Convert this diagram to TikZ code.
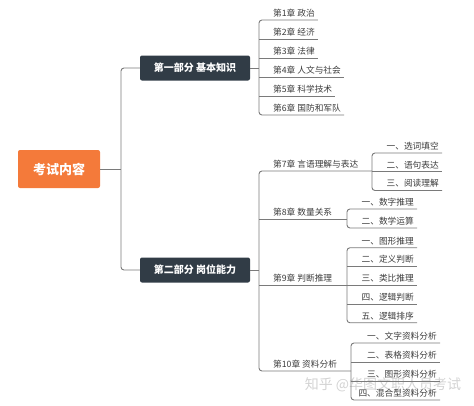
\documentclass[tikz,border=0pt]{standalone}
\usepackage{fontspec}
\newfontfamily\cjk{Noto Sans CJK SC}
\usetikzlibrary{positioning}
\definecolor{rootorange}{HTML}{F47A3A}
\definecolor{partdark}{HTML}{313C46}
\definecolor{linegray}{HTML}{7A7A7A}
\definecolor{leaftext}{HTML}{3C3C3C}

\begin{document}
\begin{tikzpicture}[
    x=1pt, y=-1pt,
    font=\cjk,
    root/.style={fill=rootorange, rounded corners=2pt, text=white, font=\cjk\bfseries\fontsize{13}{15}\selectfont, minimum width=82pt, minimum height=38pt},
    part/.style={fill=partdark, rounded corners=2pt, text=white, font=\cjk\bfseries\fontsize{10}{12}\selectfont, minimum width=110pt, minimum height=25pt},
    leaf/.style={text=leaftext, font=\cjk\fontsize{8.7}{10}\selectfont, inner xsep=3pt, inner ysep=2pt, text height=7.5pt, text depth=1.5pt},
    link/.style={draw=linegray, line width=0.9pt, rounded corners=3pt},
]
\useasboundingbox (0,0) rectangle (474,405);

% --- Root & the two parts ---
\node[root] (root) at (59,169) {考试内容};
\node[part] (p1) at (195,68)  {第一部分 基本知识};
\node[part] (p2) at (195,270) {第二部分 岗位能力};

% --- Junctions ---
\coordinate (rtrunk) at (121,169);
\coordinate (k1) at (259,68);
\coordinate (k2) at (259,270);
\coordinate (j7)  at (372,171);
\coordinate (j8)  at (347,219);
\coordinate (j9)  at (347,285);
\coordinate (j10) at (351,371);

% --- Part 1: chapters 1-6 ---
\foreach \txt [count=\i] in {第1章 政治, 第2章 经济, 第3章 法律, 第4章 人文与社会, 第5章 科学技术, 第6章 国防和军队}
  \node[leaf, anchor=south west] (c\i) at (270,{1+19*\i}) {\txt};

% --- Part 2: chapters 7-10 ---
\node[leaf, anchor=south west] (c7)  at (270,171) {第7章 言语理解与表达};
\node[leaf, anchor=south west] (c8)  at (270,219) {第8章 数量关系};
\node[leaf, anchor=south west] (c9)  at (270,285) {第9章 判断推理};
\node[leaf, anchor=south west] (c10) at (270,371) {第10章 资料分析};

% --- Sections under chapters 7-10 ---
\foreach \txt [count=\i] in {一、选词填空, 二、语句表达, 三、阅读理解}
  \node[leaf, anchor=south east] (s7-\i) at (442,{134.25+18.75*\i}) {\txt};
\foreach \txt [count=\i] in {一、数字推理, 二、数学运算}
  \node[leaf, anchor=south east] (s8-\i) at (417,{190+19*\i}) {\txt};
\foreach \txt [count=\i] in {一、图形推理, 二、定义判断, 三、类比推理, 四、逻辑判断, 五、逻辑排序}
  \node[leaf, anchor=south east] (s9-\i) at (417,{229+18.75*\i}) {\txt};
\foreach \txt [count=\i] in {一、文字资料分析, 二、表格资料分析, 三、图形资料分析, 四、混合型资料分析}
  \node[leaf, anchor=south east] (s10-\i) at (440,{324+19*\i}) {\txt};

% --- Root to parts ---
\draw[link] (root.east) -- (rtrunk);
\draw[link] (p1.west) -- (p1.west -| rtrunk) -- (p2.west -| rtrunk) -- (p2.west);

% --- Part 1 branches ---
\draw[link] (p1.east) -- (k1);
\draw[link] (c1.south east) -- (c1.south west -| k1) -- (c6.south west -| k1) -- (c6.south east);
\foreach \i in {2,...,5}
  \draw[link] (c\i.south west -| k1) -- (c\i.south east);

% --- Part 2 branches ---
\draw[link] (p2.east) -- (k2);
\draw[link] (j7) -- (c7.south west -| k2) -- (c10.south west -| k2) -- (j10);
\draw[link] (c8.south west -| k2) -- (j8);
\draw[link] (c9.south west -| k2) -- (j9);

% --- Chapter 7 ---
\draw[link] (s7-1.south east) -- (s7-1.south east -| j7) -- (s7-3.south east -| j7) -- (s7-3.south east);
\draw[link] (s7-2.south east -| j7) -- (s7-2.south east);

% --- Chapter 8 ---
\draw[link] (s8-1.south east) -- (s8-1.south east -| j8) -- (s8-2.south east -| j8) -- (s8-2.south east);

% --- Chapter 9 ---
\draw[link] (s9-1.south east) -- (s9-1.south east -| j9) -- (s9-5.south east -| j9) -- (s9-5.south east);
\foreach \i in {2,3,4}
  \draw[link] (s9-\i.south east -| j9) -- (s9-\i.south east);

% --- Chapter 10 ---
\draw[link] (s10-1.south east) -- (s10-1.south east -| j10) -- (s10-4.south east -| j10) -- (s10-4.south east);
\foreach \i in {2,3}
  \draw[link] (s10-\i.south east -| j10) -- (s10-\i.south east);

% --- Watermark ---
\node[text=gray, opacity=0.35, font=\cjk\fontsize{14}{16}\selectfont] (mark) at (383,385) {知乎 @华图文职人员考试};

\end{tikzpicture}
\end{document}
